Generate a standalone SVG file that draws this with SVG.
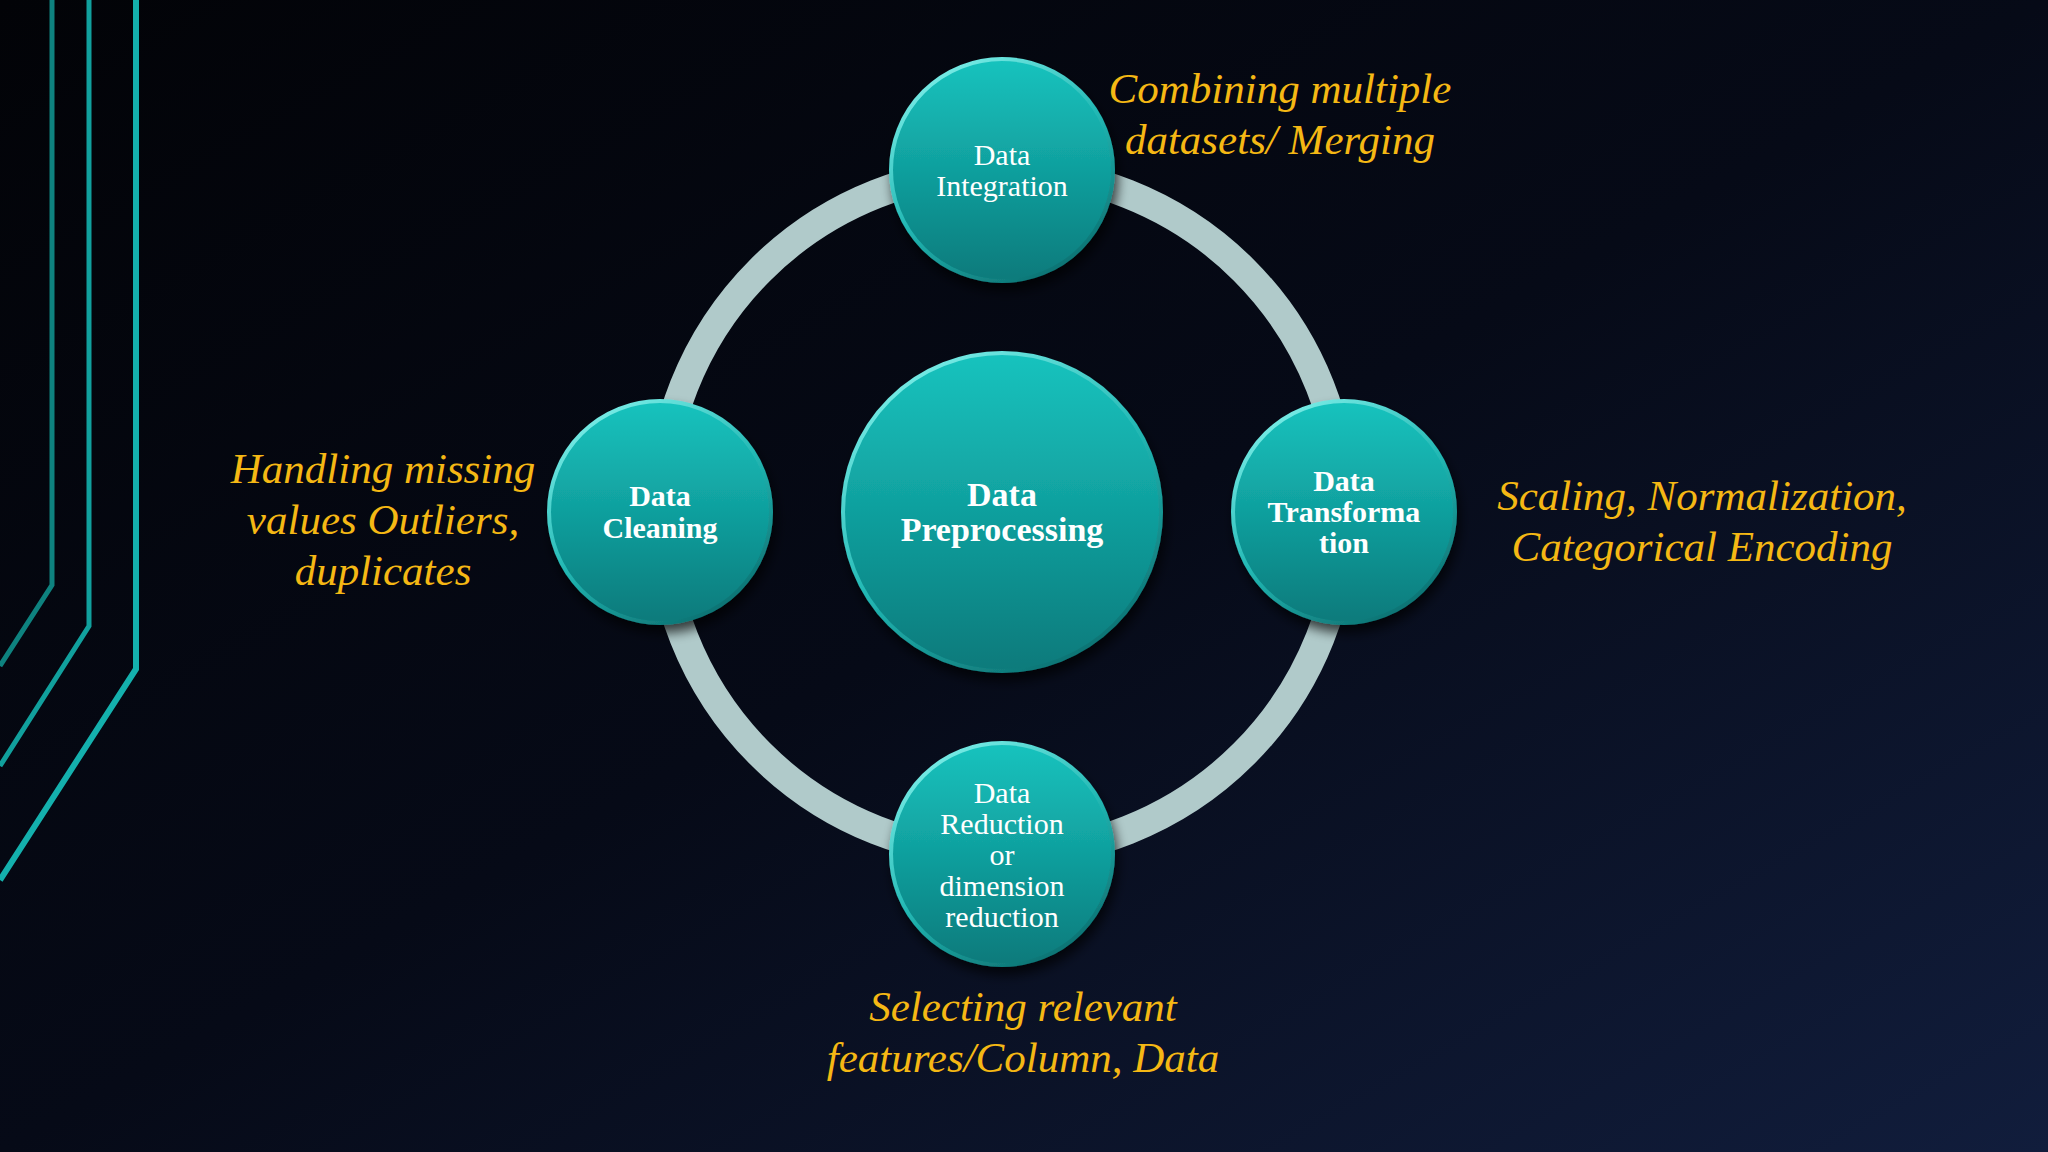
<svg xmlns="http://www.w3.org/2000/svg" width="2048" height="1152" viewBox="0 0 2048 1152">
<defs>
  <linearGradient id="bg" x1="0" y1="0" x2="1" y2="1">
    <stop offset="0" stop-color="#020307"/>
    <stop offset="0.5" stop-color="#060a17"/>
    <stop offset="1" stop-color="#111d3c"/>
  </linearGradient>
  <linearGradient id="ball" x1="0" y1="0" x2="0" y2="1">
    <stop offset="0" stop-color="#19c3be"/>
    <stop offset="0.45" stop-color="#11a3a1"/>
    <stop offset="1" stop-color="#097a7b"/>
  </linearGradient>
  <linearGradient id="rim" x1="0.2" y1="0" x2="0.8" y2="1">
    <stop offset="0" stop-color="#7ff0ea"/>
    <stop offset="0.5" stop-color="#22b8b4"/>
    <stop offset="1" stop-color="#0b6a6b"/>
  </linearGradient>
  <filter id="shadow" x="-20%" y="-20%" width="140%" height="150%">
    <feGaussianBlur in="SourceAlpha" stdDeviation="6"/>
    <feOffset dx="3" dy="8" result="b"/>
    <feComponentTransfer><feFuncA type="linear" slope="0.7"/></feComponentTransfer>
    <feMerge><feMergeNode/><feMergeNode in="SourceGraphic"/></feMerge>
  </filter>
  <style>
    .ball{fill:url(#ball);stroke:url(#rim);stroke-width:4;filter:url(#shadow)}
    .lbl{font-family:"Liberation Serif","Times New Roman",serif;fill:#ffffff;text-anchor:middle;font-size:30px}
    .b{font-weight:bold}
    .big{font-size:34px}
    .note{font-family:"Liberation Serif","Times New Roman",serif;font-style:italic;fill:#f5b814;text-anchor:middle;font-size:43px}
    .deco{fill:none;stroke-linejoin:miter}
  </style>
</defs>
<rect width="2048" height="1152" fill="url(#bg)"/>
<g id="decor">
  <path class="deco" d="M52,0 V585 L0,666" stroke="#0e827f" stroke-width="5"/>
  <path class="deco" d="M89,0 V626 L0,766" stroke="#11a09d" stroke-width="5"/>
  <path class="deco" d="M136,0 V669 L0,880" stroke="#14b0ad" stroke-width="6"/>
</g>
<g id="connectors">
  <circle cx="1002" cy="512" r="342" fill="none" stroke="#b0caca" stroke-width="29"/>
</g>
<g id="center">
  <circle class="ball" cx="1002" cy="512" r="159"/>
  <text class="lbl b big" x="1002" y="506">Data</text>
  <text class="lbl b big" x="1002" y="541">Preprocessing</text>
</g>
<g id="integration">
  <circle class="ball" cx="1002" cy="170" r="111"/>
  <text class="lbl" x="1002" y="165">Data</text>
  <text class="lbl" x="1002" y="196">Integration</text>
</g>
<g id="cleaning">
  <circle class="ball" cx="660" cy="512" r="111"/>
  <text class="lbl b" x="660" y="506">Data</text>
  <text class="lbl b" x="660" y="538">Cleaning</text>
</g>
<g id="transformation">
  <circle class="ball" cx="1344" cy="512" r="111"/>
  <text class="lbl b" x="1344" y="491">Data</text>
  <text class="lbl b" x="1344" y="522">Transforma</text>
  <text class="lbl b" x="1344" y="553">tion</text>
</g>
<g id="reduction">
  <circle class="ball" cx="1002" cy="854" r="111"/>
  <text class="lbl" x="1002" y="803">Data</text>
  <text class="lbl" x="1002" y="834">Reduction</text>
  <text class="lbl" x="1002" y="865">or</text>
  <text class="lbl" x="1002" y="896">dimension</text>
  <text class="lbl" x="1002" y="927">reduction</text>
</g>
<g id="notes">
  <text class="note" x="1280" y="103">Combining multiple</text>
  <text class="note" x="1280" y="154">datasets/ Merging</text>
  <text class="note" x="383" y="483">Handling missing</text>
  <text class="note" x="383" y="534">values Outliers,</text>
  <text class="note" x="383" y="585">duplicates</text>
  <text class="note" x="1702" y="510">Scaling, Normalization,</text>
  <text class="note" x="1702" y="561">Categorical Encoding</text>
  <text class="note" x="1023" y="1021">Selecting relevant</text>
  <text class="note" x="1023" y="1072">features/Column, Data</text>
</g>
</svg>
